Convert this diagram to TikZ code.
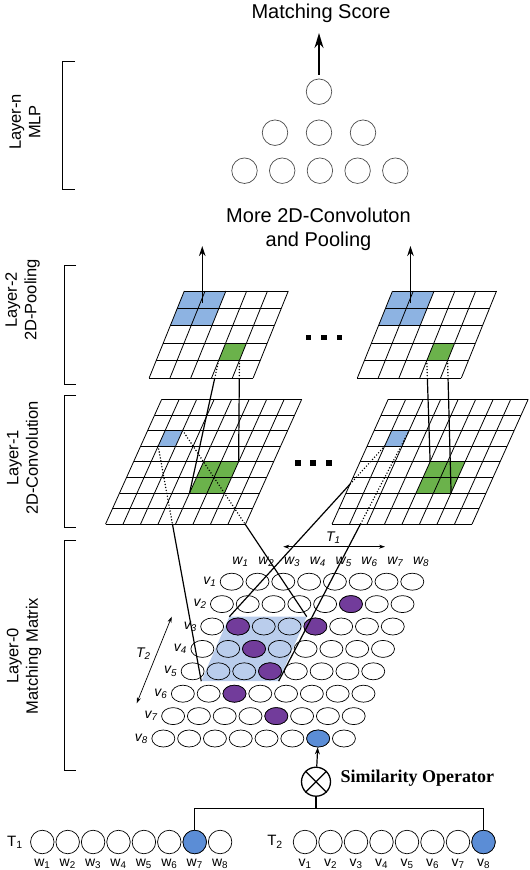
\documentclass[tikz,border=0pt]{standalone}
\usepackage{fontspec}
\setmainfont{Liberation Sans}
\newfontfamily\opfont{Liberation Serif}
\usetikzlibrary{arrows.meta,shapes.geometric}

\definecolor{poolblue}{RGB}{141,179,226}
\definecolor{convgreen}{RGB}{107,178,75}
\definecolor{regblue}{RGB}{186,205,236}
\definecolor{selpurple}{RGB}{114,60,155}
\definecolor{wordblue}{RGB}{91,141,214}

\tikzset{
  lay/.style={font=\fontsize{16.5}{19.5}\selectfont, align=center, rotate=90},
  head/.style={font=\fontsize{20}{24}\selectfont, align=center},
  brace/.style={line width=0.9pt},
  gline/.style={line width=0.8pt},
  link/.style={line width=1.2pt},
  hidden/.style={line width=1.6pt, line cap=round, dash pattern=on 0pt off 3pt},
  neuron/.style={circle, draw=black!70, line width=0.7pt, minimum size=25.5pt, inner sep=0pt},
  word/.style={circle, draw, line width=0.7pt, minimum size=23.5pt, inner sep=0pt},
  sim/.style={ellipse, draw, line width=0.7pt, minimum width=23pt, minimum height=17pt, inner sep=0pt},
  dimarrow/.style={{Stealth[length=6pt,width=4pt]}-{Stealth[length=6pt,width=4pt]}, line width=0.7pt},
  bigarrow/.style={line width=2pt, -{Stealth[length=15pt,width=9pt]}},
  uparrow/.style={line width=1.5pt, -{Stealth[length=10pt,width=6.5pt]}},
  morebox/.style={fill, inner sep=0pt, minimum size=#1},
  morebox/.default=6pt,
  mlab/.style={font=\fontsize{14}{16}\selectfont\itshape},
  wlab/.style={font=\fontsize{14}{16}\selectfont},
}

\begin{document}
\begin{tikzpicture}[x=1pt,y=-1pt,>=Stealth]
\useasboundingbox (0,0) rectangle (530,870);

% Layer-n
\node[neuron] (o1) at (319,91.7) {};
\foreach \k/\x in {1/275,2/319,3/363}
  \node[neuron] (h\k) at (\x,132.7) {};
\foreach \k/\x in {1/244.5,2/282.2,3/319.9,4/357.6,5/395.3}
  \node[neuron] (i\k) at (\x,170.7) {};
\node[head] (score) at (321,13) {Matching Score};
\draw[bigarrow] ([yshift=4pt]o1.north) -- (o1.north |- 0,33);

% side brackets
\draw[brace] (75,61.7) -- (62.7,61.7) -- (62.7,189.3) -- (75,189.3);
\node[lay] (lmlp) at (25,122) {Layer-n\\MLP};
\draw[brace] (76,265) -- (64,265) -- (64,384) -- (76,384);
\node[lay] (lpool) at (22.5,300) {Layer-2\\2D-Pooling};
\draw[brace] (76,395) -- (64,395) -- (64,527.7) -- (76,527.7);
\node[lay] (lconv) at (22.5,458) {Layer-1\\2D-Convolution};
\draw[brace] (76,540) -- (64,540) -- (64,770.7) -- (76,770.7);
\node[lay] (lmat) at (24,656) {Layer-0\\Matching Matrix};

\node[head] (more) at (318.5,229) {More 2D-Convoluton\\and Pooling};

% Layer-2, left
\begin{scope}[shift={(184.3,291)}, x=20.8pt, y=-17.4pt, xslant=0.404]
  \fill[poolblue] (0,0) -- (2,0) -- (2,2) -- (0,2) -- cycle;
  \fill[convgreen] (3,3) -- (4,3) -- (4,4) -- (3,4) -- cycle;
  \foreach \k in {0,...,5} {
    \draw[gline] (\k,0) -- (\k,5);
    \draw[gline] (0,\k) -- (5,\k);
  }
  \coordinate (pl-bl) at (0,5);
  \coordinate (pl-br) at (5,5);
  \coordinate (pl-g1) at (3,4);
  \coordinate (pl-g2) at (4,4);
  \coordinate (pl-up) at (1.1,0.7);
\end{scope}

% Layer-2, right
\begin{scope}[shift={(392.5,291)}, x=20.8pt, y=-17.4pt, xslant=0.404]
  \fill[poolblue] (0,0) -- (2,0) -- (2,2) -- (0,2) -- cycle;
  \fill[convgreen] (3,3) -- (4,3) -- (4,4) -- (3,4) -- cycle;
  \foreach \k in {0,...,5} {
    \draw[gline] (\k,0) -- (\k,5);
    \draw[gline] (0,\k) -- (5,\k);
  }
  \coordinate (pr-bl) at (0,5);
  \coordinate (pr-br) at (5,5);
  \coordinate (pr-g1) at (3,4);
  \coordinate (pr-g2) at (4,4);
  \coordinate (pr-up) at (1.1,0.7);
\end{scope}

\draw[uparrow] (pl-up) -- (pl-up |- 0,246);
\draw[uparrow] (pr-up) -- (pr-up |- 0,246);
\foreach \k/\x in {1/308.3,2/324,3/339.3}
  \node[morebox=5.5pt] (pd\k) at (\x,337.3) {};

% Layer-1, left
\begin{scope}[shift={(161.7,399.3)}, x=17.5pt, y=-15.6pt, xslant=0.45]
  \fill[poolblue] (1,2) -- (2,2) -- (2,3) -- (1,3) -- cycle;
  \fill[convgreen] (4,4) -- (6,4) -- (6,6) -- (4,6) -- cycle;
  \foreach \k in {0,...,8} {
    \draw[gline] (\k,0) -- (\k,8);
    \draw[gline] (0,\k) -- (8,\k);
  }
  \coordinate (cl-tl) at (0,0);
  \coordinate (cl-bl) at (0,8);
  \coordinate (cl-br) at (8,8);
  \coordinate (cl-b1) at (1,3);
  \coordinate (cl-b2) at (2,2);
  \coordinate (cl-g1) at (4,6);
  \coordinate (cl-g2) at (6,4);
\end{scope}

% Layer-1, right
\begin{scope}[shift={(388.2,399.3)}, x=17.5pt, y=-15.6pt, xslant=0.45]
  \fill[poolblue] (1,2) -- (2,2) -- (2,3) -- (1,3) -- cycle;
  \fill[convgreen] (4,4) -- (6,4) -- (6,6) -- (4,6) -- cycle;
  \foreach \k in {0,...,8} {
    \draw[gline] (\k,0) -- (\k,8);
    \draw[gline] (0,\k) -- (8,\k);
  }
  \coordinate (cr-tl) at (0,0);
  \coordinate (cr-bl) at (0,8);
  \coordinate (cr-br) at (8,8);
  \coordinate (cr-b1) at (1,3);
  \coordinate (cr-b2) at (2,2);
  \coordinate (cr-g1) at (4,4);
  \coordinate (cr-g2) at (6,6);
\end{scope}

\foreach \k/\x in {1/298.3,2/313.3,3/329.3}
  \node[morebox] (cd\k) at (\x,463.3) {};

% Layer-0
\begin{scope}[shift={(231.7,581.7)}, x=25.8pt, y=-22.4pt, xslant=0.436]
  \fill[regblue] (0.5,1.56) -- (3.5,1.56) -- (3.5,4.44) -- (0.5,4.44) -- cycle;
  \foreach \i in {0,...,7}
    \foreach \j in {0,...,7}
      \node[sim] (m-\i-\j) at (\i,\j) {};
  \foreach \i/\j in {5/1,1/2,4/2,2/3,3/4,2/5,4/6}
    \node[sim, fill=selpurple] (p-\i-\j) at (\i,\j) {};
  \node[sim, fill=wordblue] (sel) at (6,7) {};
  \foreach \n [count=\i from 0] in {1,...,8} {
    \node[mlab] (mw\n) at (\i,-0.9) {w\textsubscript{\n}};
    \node[mlab] (mv\n) at (-0.85,\i) {v\textsubscript{\n}};
  }
  \coordinate (mr-tl) at (0.5,1.56);
  \coordinate (mr-tr) at (3.5,1.56);
  \coordinate (mr-bl) at (0.5,4.44);
  \coordinate (mr-br) at (3.5,4.44);
\end{scope}

\coordinate (t1a) at (283.3,546.7);
\coordinate (t1b) at (385,546.7);
\draw[dimarrow] (t1a) -- (t1b);
\node[mlab] (t1lab) at (333.3,538) {T\textsubscript{1}};
\coordinate (t2a) at (171.7,616.7);
\coordinate (t2b) at (136.7,703.3);
\draw[dimarrow] (t2a) -- (t2b);
\node[mlab] (t2lab) at (143.3,653.3) {T\textsubscript{2}};

% pooling <- convolution
\coordinate (a1) at (intersection of pl-g1--cl-g1 and pl-bl--pl-br);
\draw[hidden] (pl-g1) -- (a1);
\draw[link] (a1) -- (cl-g1);
\coordinate (a2) at (intersection of pl-g2--cl-g2 and pl-bl--pl-br);
\draw[hidden] (pl-g2) -- (a2);
\draw[link] (a2) -- (cl-g2);
\coordinate (a3) at (intersection of pr-g1--cr-g1 and pr-bl--pr-br);
\draw[hidden] (pr-g1) -- (a3);
\draw[link] (a3) -- (cr-g1);
\coordinate (a4) at (intersection of pr-g2--cr-g2 and pr-bl--pr-br);
\draw[hidden] (pr-g2) -- (a4);
\draw[link] (a4) -- (cr-g2);

% convolution <- matching matrix
\coordinate (b1) at (intersection of cl-b1--mr-bl and cl-bl--cl-br);
\draw[hidden] (cl-b1) -- (b1);
\draw[link] (b1) -- (mr-bl);
\coordinate (b2) at (intersection of cl-b2--mr-tr and cl-bl--cl-br);
\draw[hidden] (cl-b2) -- (b2);
\draw[link] (b2) -- (mr-tr);
\coordinate (b3) at (intersection of cr-b1--mr-tl and cr-tl--cr-bl);
\draw[hidden] (cr-b1) -- (b3);
\draw[link] (b3) -- (mr-tl);
\coordinate (b4) at (intersection of cr-b2--mr-br and cr-bl--cr-br);
\draw[hidden] (cr-b2) -- (b4);
\draw[link] (b4) -- (mr-br);

% input sentences
\node[wlab, font=\fontsize{15}{17}\selectfont] (s1) at (15,842) {T\textsubscript{1}};
\foreach \n [count=\i from 0] in {1,...,8} {
  \node[word] (w\n) at (42.3+25.4*\i,842) {};
  \node[wlab, anchor=north] (lw\n) at ([yshift=-1pt]w\n.south) {w\textsubscript{\n}};
}
\node[word, fill=wordblue] (w7) at (194.7,842) {};
\node[wlab, font=\fontsize{15}{17}\selectfont] (s2) at (275,842) {T\textsubscript{2}};
\foreach \n [count=\i from 0] in {1,...,8} {
  \node[word] (v\n) at (305+25.5*\i,842) {};
  \node[wlab, anchor=north] (lv\n) at ([yshift=-1pt]v\n.south) {v\textsubscript{\n}};
}
\node[word, fill=wordblue] (v8) at (483.5,842) {};

% similarity operator
\node[circle, draw, line width=1.3pt, minimum size=29pt, inner sep=0pt] (op) at (316,781.7) {};
\draw[line width=1.3pt] (op.north west) -- (op.south east) (op.north east) -- (op.south west);
\node[anchor=west, font={\opfont\bfseries\fontsize{18}{20}\selectfont}] (oplab) at (337,778) {Similarity Operator};
\draw[link, -{Stealth[length=7pt,width=5pt]}] (op) -- (sel);
\draw[link] (w7.north) |- (v8.north |- 0,808.3) -- (v8.north);
\draw[link] (op.south) -- (op.south |- 0,808.3);

\end{tikzpicture}
\end{document}
